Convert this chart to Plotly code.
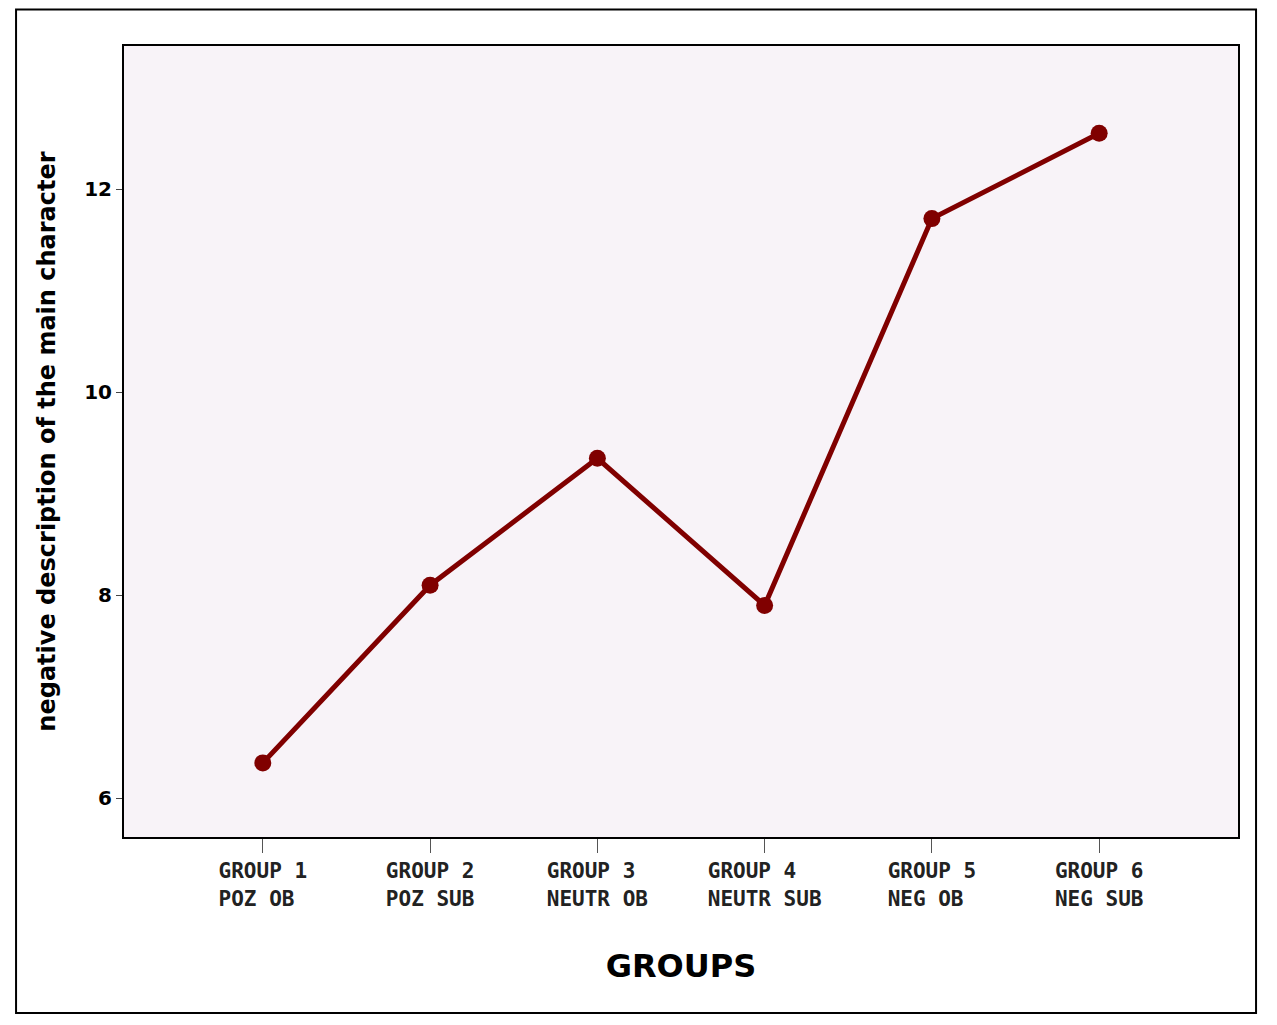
import plotly.graph_objects as go

NB = "\u00a0"
groups = ["GROUP 1<br>POZ OB" + NB, "GROUP 2<br>POZ SUB", "GROUP 3" + NB + "<br>NEUTR OB",
          "GROUP 4" + NB * 2 + "<br>NEUTR SUB", "GROUP 5<br>NEG OB" + NB, "GROUP 6<br>NEG SUB"]
means = [6.35, 8.10, 9.35, 7.90, 11.71, 12.55]
y_ticks = [6, 8, 10, 12]

fig = go.Figure(go.Scatter(
    x=list(range(len(groups))), y=means, mode="lines+markers",
    line=dict(color="#800000", width=5),
    marker=dict(color="#800000", size=17),
))

fig.update_layout(
    width=1277, height=1025,
    paper_bgcolor="white", plot_bgcolor="#f8f3f8",
    margin=dict(l=116, r=47, t=38, b=196),
    showlegend=False,
    font=dict(family="DejaVu Sans", color="black"),
    shapes=[dict(type="rect", xref="paper", yref="paper",
                 x0=-0.0969, x1=1.0162, y0=-0.2225, y1=1.046,
                 line=dict(color="black", width=2))],
)
fig.update_xaxes(
    range=[-0.83, 5.83], tickvals=list(range(len(groups))), ticktext=groups,
    tickfont=dict(family="DejaVu Sans Mono", size=21, color="#222", weight="bold"),
    ticks="outside", ticklen=14, tickcolor="#555", showgrid=False, zeroline=False,
    showline=True, linecolor="black", linewidth=2, mirror=True,
    title=dict(text="<b>GROUPS</b>", font=dict(size=32), standoff=45),
)
fig.update_yaxes(
    range=[5.62, 13.41], tickvals=y_ticks,
    tickfont=dict(size=20, weight="bold"), ticks="outside", ticklen=6,
    showgrid=False, zeroline=False,
    showline=True, linecolor="black", linewidth=2, mirror=True,
    title=dict(text="<b>negative description of the main character</b>",
               font=dict(size=24), standoff=22),
)

fig.write_html("out.html")
